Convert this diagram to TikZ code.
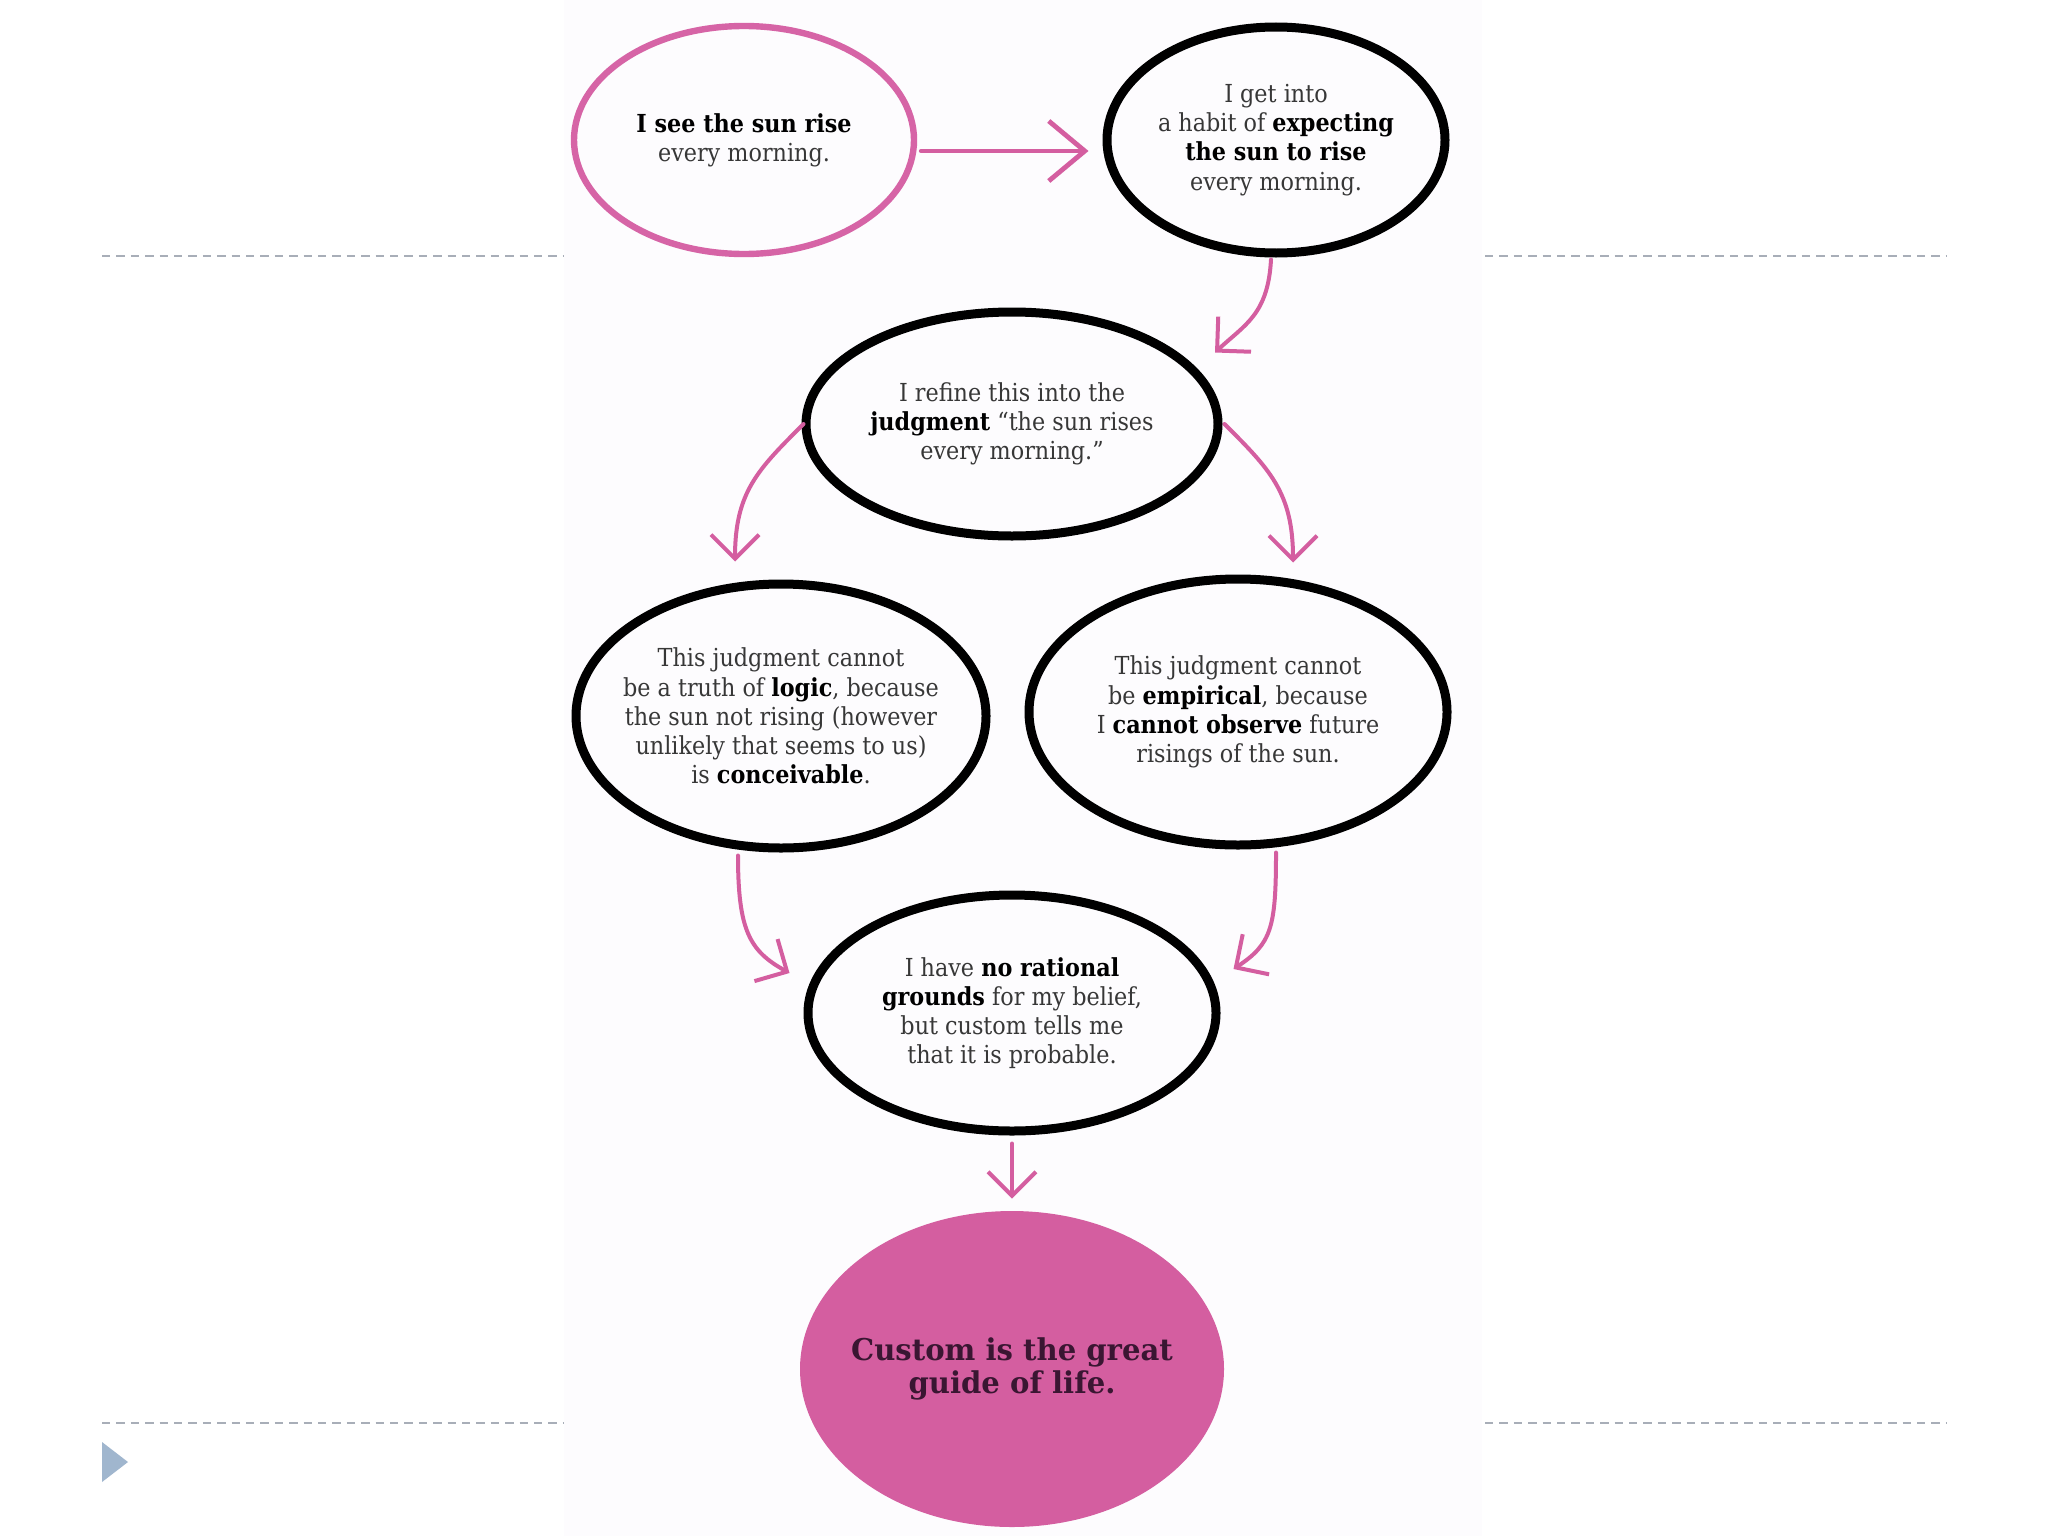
\documentclass[tikz,border=0pt]{standalone}
\usepackage{fontspec}
\setmainfont{DejaVu Serif}[FakeStretch=0.90]
\newfontfamily\headfont{DejaVu Serif}[FakeStretch=0.97]
\usetikzlibrary{shapes.geometric,arrows.meta,calc}
\definecolor{pinkc}{RGB}{212,94,160}
\definecolor{pinkline}{RGB}{214,100,166}
\definecolor{txtc}{RGB}{55,55,55}
\definecolor{finaltxt}{RGB}{58,22,50}
\definecolor{dashc}{RGB}{168,174,184}
\definecolor{tric}{RGB}{160,182,206}
\definecolor{panelc}{RGB}{253,252,254}
\tikzset{
  bub/.style={ellipse, draw=black, line width=4.5pt, inner sep=-30pt, align=center,
    text=txtc, font=\fontsize{12.4}{14.6}\selectfont},
  pinkbub/.style={bub, draw=pinkline, line width=3.2pt},
  finalbub/.style={ellipse, fill=pinkc, draw=none, inner sep=-30pt, align=center,
    text=finaltxt, font=\headfont\bfseries\fontsize{15}{16.5}\selectfont},
  conn/.style={draw=pinkc, line width=2pt, line cap=round,
    -{Straight Barb[length=12pt,width=24pt,line width=2pt]}},
  bigconn/.style={conn, line width=2.4pt,
    -{Straight Barb[length=18pt,width=30pt,line width=2.4pt]}},
  sep/.style={draw=dashc, line width=1pt, dash pattern=on 4.2pt off 3pt},
}
\newcommand{\bk}[1]{\textcolor{black}{\bfseries #1}}
\begin{document}
\begin{tikzpicture}[x=0.5pt,y=-0.5pt]
\useasboundingbox (0,0) rectangle (2048,1536);
\fill[white] (0,0) rectangle (2048,1536);
% separators
\draw[sep] (102,256) -- (564,256);
\draw[sep] (1485,256) -- (1946,256);
\draw[sep] (102,1423) -- (564,1423);
\draw[sep] (1485,1423) -- (1946,1423);
\fill[panelc] (564,0) rectangle (1482,1536);
\fill[tric] (102,1442) -- (128,1462) -- (102,1482) -- cycle;
% bubbles
\node[pinkbub, minimum width=170pt, minimum height=114pt] (e1) at (744,140)
  {\bk{I see the sun rise}\\every morning.};
\node[bub, minimum width=169pt, minimum height=113pt] (e2) at (1276,140)
  {I get into\\a habit of \bk{expecting}\\\bk{the sun to rise}\\every morning.};
\node[bub, minimum width=206pt, minimum height=112pt] (e3) at (1012,424)
  {I refine this into the\\\bk{judgment} “the sun rises\\every morning.”};
\node[bub, minimum width=205pt, minimum height=132pt] (e4) at (781,716)
  {This judgment cannot\\be a truth of \bk{logic}, because\\the sun not rising (however\\unlikely that seems to us)\\is \bk{conceivable}.};
\node[bub, minimum width=209pt, minimum height=133pt] (e5) at (1238,712)
  {This judgment cannot\\be \bk{empirical}, because\\I \bk{cannot observe} future\\risings of the sun.};
\node[bub, minimum width=204pt, minimum height=118pt] (e6) at (1012,1013)
  {I have \bk{no rational}\\\bk{grounds} for my belief,\\but custom tells me\\that it is probable.};
\node[finalbub, minimum width=212pt, minimum height=158pt] (e7) at (1012,1369)
  {Custom is the great\\guide of life.};
% connectors
\draw[bigconn] ($(e1.east)+(4,11)$) -- ($(e2.west)+(-14,11)$);
\draw[conn] ($(e2.south)+(-5,2)$) .. controls +(-3,55) and +(30,-28) .. ($(e3.north)+(203,45)$);
\draw[conn] ($(e3.west)+(2,0)$) .. controls +(-45,45) and +(0,-70) .. ($(e4.north)+(-46,-18)$);
\draw[conn] ($(e3.east)+(2,0)$) .. controls +(45,45) and +(0,-70) .. ($(e5.north)+(55,-12)$);
\draw[conn] ($(e4.south)+(-43,3)$) .. controls +(0,75) and +(-40,-22) .. ($(e6.west)+(-14,-40)$);
\draw[conn] ($(e5.south)+(38,3)$) .. controls +(0,75) and +(38,-25) .. ($(e6.east)+(13,-44)$);
\draw[conn] ($(e6.south)+(0,8)$) -- ($(e7.north)+(0,-12)$);
\end{tikzpicture}
\end{document}
